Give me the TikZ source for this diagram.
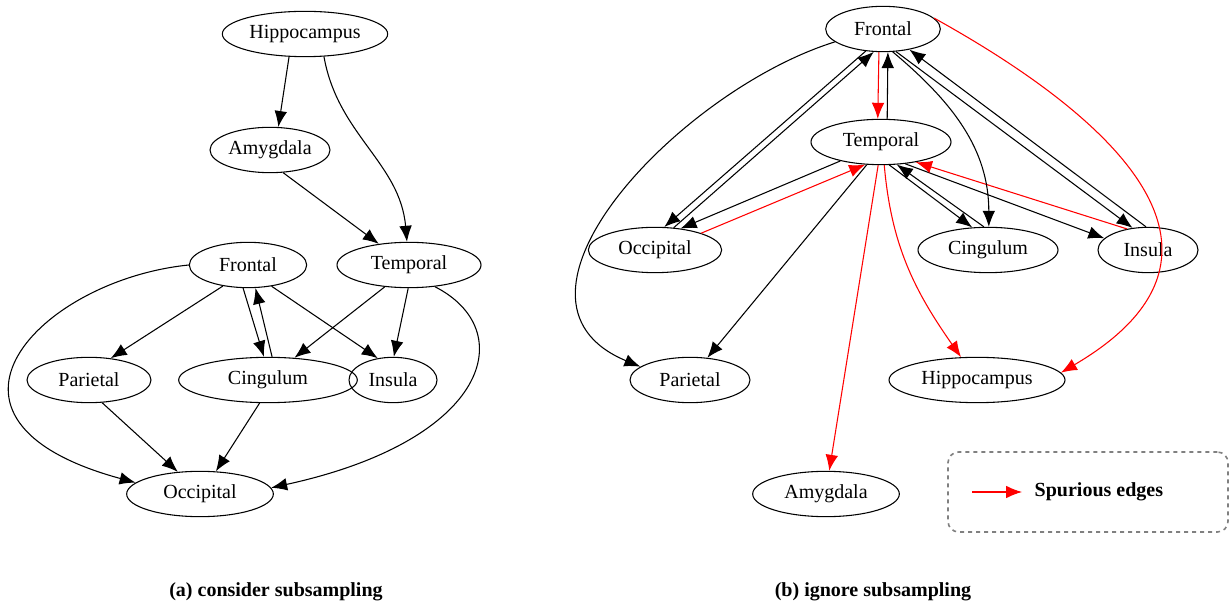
\documentclass[tikz,border=0pt]{standalone}
\usepackage{fontspec}
\setmainfont{Liberation Serif}
\usetikzlibrary{shapes.geometric,arrows.meta}
\begin{document}
\begin{tikzpicture}[x=0.75pt,y=-0.75pt,
  n/.style={ellipse,draw,line width=0.8pt,inner sep=0pt,minimum height=34pt,font=\fontsize{15}{17}\selectfont},
  e/.style={line width=0.8pt,-{Latex[length=12pt,width=9.5pt]}},
  r/.style={e,red}]
\useasboundingbox (0,0) rectangle (1231,605);
% left graph
\node[n,minimum width=124pt] (LH) at (305,34) {Hippocampus};
\node[n,minimum width=90pt] (LA) at (270,150) {Amygdala};
\node[n,minimum width=108pt] (LT) at (409,265) {Temporal};
\node[n,minimum width=88pt] (LF) at (248,265) {Frontal};
\node[n,minimum width=93pt] (LP) at (89,380) {Parietal};
\node[n,minimum width=134pt] (LC) at (268,380) {Cingulum};
\node[n,minimum width=66pt] (LI) at (393,380) {Insula};
\node[n,minimum width=110pt] (LO) at (200,494) {Occipital};
\draw[e] (LH.235) -- (LA.70);
\draw[e] (LH.310) to[out=-80,in=95] (LT.95);
\draw[e] (LA.300) -- (LT.145);
\draw[e] (LF.220) -- (LP.45);
\draw[e] (LF.258) -- (LC.100);
\draw[e] (LC.80) -- (LF.288);
\draw[e] (LF.318) -- (LI.125);
\draw[e] (LF.180) .. controls (40,280) and (-95,420) .. (LO.170);
\draw[e] (LT.222) -- (LC.40);
\draw[e] (LT.268) -- (LI.88);
\draw[e] (LT.320) .. controls (520,330) and (490,440) .. (LO.5);
\draw[e] (LP.300) -- (LO.135);
\draw[e] (LC.250) -- (LO.55);
% right graph
\node[n,minimum width=86pt] (F) at (883,29) {Frontal};
\node[n,minimum width=105pt] (T) at (881,142) {Temporal};
\node[n,minimum width=100pt] (O) at (655,250) {Occipital};
\node[n,minimum width=105pt] (C) at (988,250) {Cingulum};
\node[n,minimum width=75pt] (I) at (1148,250) {Insula};
\node[n,minimum width=90pt] (P) at (690,380) {Parietal};
\node[n,minimum width=132pt] (H) at (977,380) {Hippocampus};
\node[n,minimum width=110pt] (A) at (826,494) {Amygdala};
\draw[e] (F.232) -- (O.68);
\draw[e] (O.50) -- (F.248);
\draw[r] (F.260) -- (T.98);
\draw[e] (T.75) -- (F.282);
\draw[e] (T.205) -- (O.40);
\draw[r] (O.20) -- (T.235);
\draw[e] (T.290) -- (C.125);
\draw[e] (C.100) -- (T.305);
\draw[e] (T.318) -- (I.165);
\draw[r] (I.135) -- (T.330);
\draw[e] (F.300) -- (I.125);
\draw[e] (I.95) -- (F.322);
\draw[e] (F.293) to[out=-40,in=90] (C.88);
\draw[e] (F.195) .. controls (680,90) and (480,300) .. (P.165);
\draw[e] (T.238) -- (P.52);
\draw[r] (T.263) -- (A.82);
\draw[r] (T.278) to[out=-85,in=125] (H.125);
\draw[r] (F.12) .. controls (1100,110) and (1270,250) .. (H.5);
% legend
\node[draw=gray,dashed,line width=1.2pt,rounded corners=8pt,minimum width=210pt,minimum height=60pt] (L) at (1088,492) {};
\coordinate (L1) at (972,492);
\coordinate (L2) at (1022,492);
\draw[r] (L1) -- (L2);
\node[font=\bfseries\fontsize{15}{17}\selectfont,anchor=west] (LT2) at (1030,492) {Spurious edges};
\node[font=\bfseries\fontsize{15}{17}\selectfont] (ca) at (276,592) {(a) consider subsampling};
\node[font=\bfseries\fontsize{15}{17}\selectfont] (cb) at (873,592) {(b) ignore subsampling};
\end{tikzpicture}
\end{document}
